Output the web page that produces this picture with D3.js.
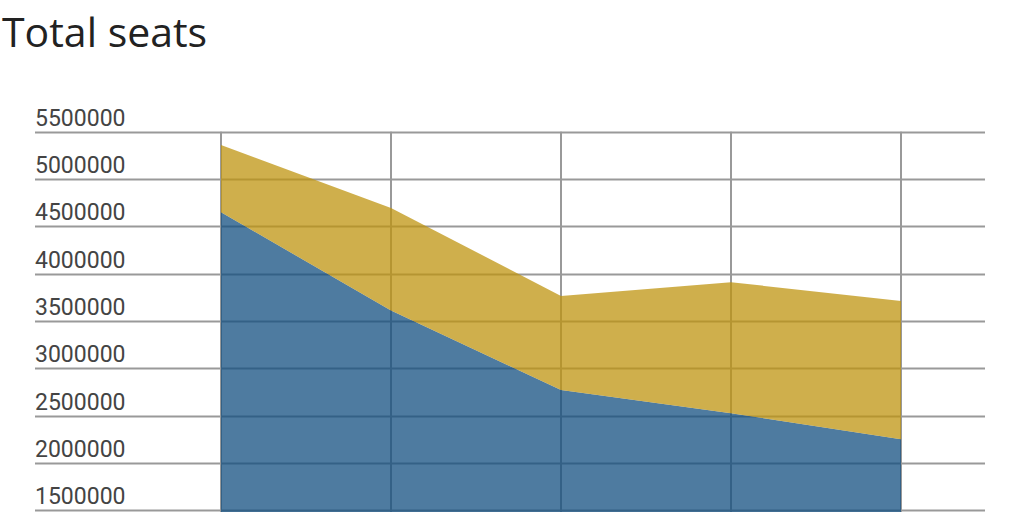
<!DOCTYPE html>
<html>
<head>
<meta charset="utf-8">
<script src="https://cdn.jsdelivr.net/npm/d3@7"></script>
<style>
  body { margin: 0; background: #fff; overflow: hidden; }
  svg { display: block; }
</style>
</head>
<body>
<div id="chart"></div>
<script>
// categories (x axis labels sit below the visible area)
const periods = ["P1", "P2", "P3", "P4", "P5"];
// stacked series, bottom to top
const lowerSeats = [4650000, 3610000, 2770000, 2525000, 2250000];
const upperSeats = [710000, 1085000, 995000, 1385000, 1460000];
const yTicks = [1500000, 2000000, 2500000, 3000000, 3500000, 4000000, 4500000, 5000000, 5500000];

const width = 1024, height = 512;

const svg = d3.select("#chart")
    .append("svg")
    .attr("width", width)
    .attr("height", height);

svg.append("text")
    .attr("x", 2)
    .attr("y", 47)
    .style("font-family", "'Open Sans', sans-serif")
    .style("font-size", "41px")
    .style("fill", "#222")
    .text("Total seats");

const table = periods.map((p, i) => ({ period: p, lower: lowerSeats[i], upper: upperSeats[i] }));
const stacked = d3.stack().keys(["lower", "upper"])(table);

const x = d3.scalePoint()
    .domain(periods)
    .range([221, 901]);

const y = d3.scaleLinear()
    .domain([1500000, 5500000])
    .range([510.3, 131.7]);

const colors = { lower: "#134f80", upper: "#bf9410" };

// horizontal grid + labels (behind the areas)
const grid = svg.append("g");
grid.selectAll(".hline")
    .data(yTicks)
    .enter()
    .append("line")
    .attr("x1", 35)
    .attr("x2", 985)
    .attr("y1", d => Math.round(y(d)) + 0.5)
    .attr("y2", d => Math.round(y(d)) + 0.5)
    .style("stroke", "#999")
    .style("stroke-width", 2);

grid.selectAll(".ylabel")
    .data(yTicks)
    .enter()
    .append("text")
    .attr("x", 35)
    .attr("y", d => y(d) - 6)
    .style("font-family", "Roboto, sans-serif")
    .style("font-size", "23px")
    .style("fill", "#444")
    .text(d => d);

// vertical grid at each category
grid.selectAll(".vline")
    .data(periods)
    .enter()
    .append("line")
    .attr("x1", d => x(d))
    .attr("x2", d => x(d))
    .attr("y1", y(5500000))
    .attr("y2", height + 20)
    .style("stroke", "#999")
    .style("stroke-width", 2);

const area = d3.area()
    .x(d => x(d.data.period))
    .y0(d => y(d[0]))
    .y1(d => y(d[1]));

svg.selectAll(".layer")
    .data(stacked)
    .enter()
    .append("path")
    .attr("class", "layer")
    .attr("d", area)
    .style("fill", d => colors[d.key])
    .style("fill-opacity", 0.75);
</script>
</body>
</html>
